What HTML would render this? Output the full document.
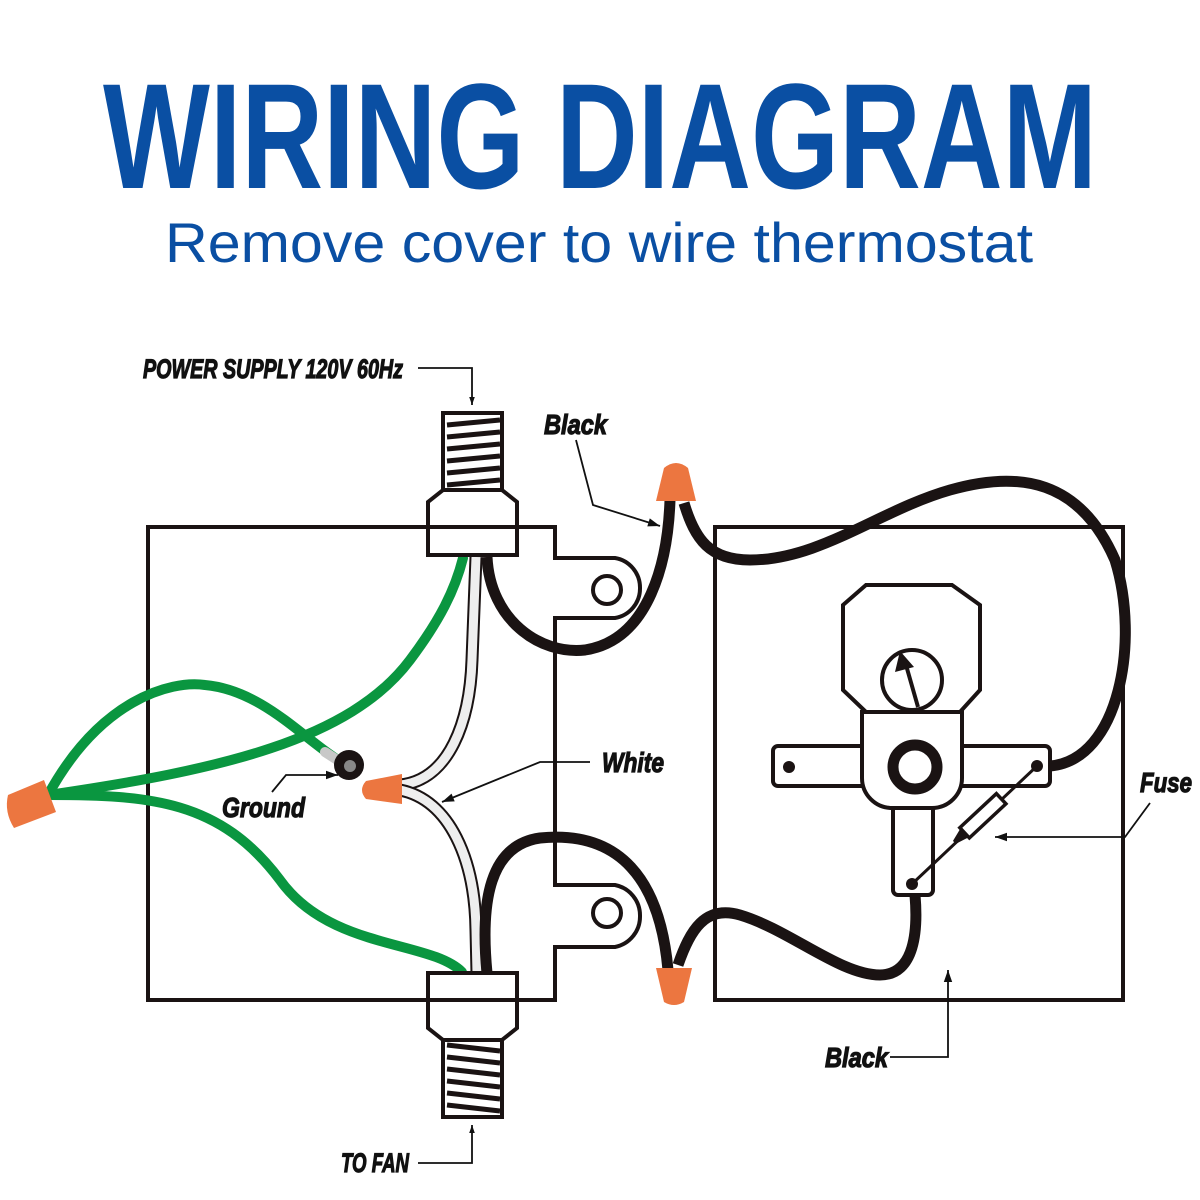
<!DOCTYPE html>
<html><head><meta charset="utf-8"><style>
html,body{margin:0;padding:0;background:#fff;}
svg{display:block;}
.lbl{font-family:"Liberation Sans",sans-serif;font-weight:bold;font-style:italic;fill:#111;stroke:#111;stroke-width:1.2;}
</style></head><body>
<svg width="1200" height="1200" viewBox="0 0 1200 1200" xmlns="http://www.w3.org/2000/svg">
<defs>
<marker id="ar" viewBox="0 0 10 10" refX="10" refY="5" markerWidth="8" markerHeight="8" orient="auto" markerUnits="userSpaceOnUse"><path d="M0,1.5 L10,5 L0,8.5 z" fill="#111"/></marker>
<marker id="ar2" viewBox="0 0 10 10" refX="10" refY="5" markerWidth="22" markerHeight="12" orient="auto" markerUnits="userSpaceOnUse"><path d="M0,1.5 L10,5 L0,8.5 z" fill="#111"/></marker>
</defs>
<text x="103" y="188" font-family="Liberation Sans, sans-serif" font-weight="bold" font-size="150" fill="#0a4fa3" textLength="994" lengthAdjust="spacingAndGlyphs">WIRING DIAGRAM</text>
<text x="165" y="262" font-family="Liberation Sans, sans-serif" font-size="56" fill="#0a4fa3" textLength="868" lengthAdjust="spacingAndGlyphs">Remove cover to wire thermostat</text>

<g fill="none" stroke="#1a1313" stroke-width="4">
<path d="M148,527 H555 V558 H615 A30,30 0 0 1 640,588 A30,30 0 0 1 615,618 H555 V885 H615 A31,31 0 0 1 640,916 A31,31 0 0 1 615,947 H555 V1000 H148 Z"/>
<circle cx="607" cy="590" r="14"/>
<circle cx="607" cy="913" r="14"/>
<rect x="715" y="527" width="408" height="473"/>
</g>

<g fill="none" stroke="#0a9640" stroke-width="10" stroke-linecap="round">
<path d="M48,795 C100,700 170,680 205,685 C260,690 300,735 335,758"/>
<path d="M48,795 C220,770 350,740 410,660 C440,620 455,590 463,558"/>
<path d="M48,795 C150,795 220,800 280,880 C330,950 430,940 462,972"/>
</g>
<g fill="none" stroke-linecap="butt">
<path d="M400,785 C450,780 470,720 472,660 L476,557" stroke="#1a1313" stroke-width="13"/>
<path d="M400,785 C450,780 470,720 472,660 L476,557" stroke="#eeeeee" stroke-width="9"/>
<path d="M400,790 C450,800 475,860 476,930 L477,973" stroke="#1a1313" stroke-width="13"/>
<path d="M400,790 C450,800 475,860 476,930 L477,973" stroke="#eeeeee" stroke-width="9"/>
</g>
<path d="M325,752 L345,765" stroke="#c8c8c8" stroke-width="10" stroke-linecap="round"/>
<circle cx="349" cy="765" r="15" fill="#1a1313"/>
<circle cx="350" cy="766" r="6" fill="#888"/>

<g fill="none" stroke="#1a1313" stroke-width="11" stroke-linecap="butt">
<path d="M487,557 C490,620 540,655 585,650 C650,640 668,560 670,500 L670,490"/>
<path d="M684,503 C695,540 710,560 750,560 C820,560 880,510 950,490 C1020,470 1080,480 1115,560 C1140,640 1120,760 1050,766"/>
<path d="M487,973 C480,900 490,845 540,838 C620,830 660,880 668,970"/>
<path d="M678,965 C690,930 705,905 740,915 C790,930 840,975 880,975 C915,975 918,930 915,895"/>
</g>

<g fill="#ec7640">
<path d="M656,501 L664,468 Q676,458 688,468 L696,501 Z"/>
<path d="M656,968 L692,968 L684,1002 Q674,1008 664,1002 Z"/>
<path d="M8,795 L44,780 L56,812 L14,828 Q4,812 8,795 Z"/>
<path d="M402,774 L402,804 L366,799 Q358,790 366,781 Z"/>
</g>

<g stroke="#1a1313" stroke-width="4" fill="#fff">
<path d="M443,413 H502 V490 L517,502 V555 H428 V502 L443,490 Z"/>
<line x1="428" y1="527" x2="517" y2="527"/>
<line x1="443" y1="490" x2="502" y2="490"/>
<g stroke-width="5">
<line x1="447" y1="425" x2="500" y2="420"/><line x1="447" y1="437" x2="500" y2="432"/>
<line x1="447" y1="449" x2="500" y2="444"/><line x1="447" y1="461" x2="500" y2="456"/>
<line x1="447" y1="473" x2="500" y2="468"/><line x1="447" y1="485" x2="500" y2="480"/>
</g>
<path d="M428,973 H517 V1028 L502,1040 V1117 H443 V1040 L428,1028 Z"/>
<line x1="428" y1="1000" x2="517" y2="1000"/>
<line x1="443" y1="1040" x2="502" y2="1040"/>
<g stroke-width="5">
<line x1="447" y1="1045" x2="500" y2="1051"/><line x1="447" y1="1057" x2="500" y2="1063"/>
<line x1="447" y1="1069" x2="500" y2="1075"/><line x1="447" y1="1081" x2="500" y2="1087"/>
<line x1="447" y1="1093" x2="500" y2="1099"/><line x1="447" y1="1105" x2="500" y2="1111"/>
</g>
</g>

<g stroke="#1a1313" stroke-width="4" fill="#fff">
<rect x="773" y="746" width="277" height="40" rx="5"/>
<rect x="893" y="795" width="40" height="100" rx="5"/>
<path d="M862,712 H962 V778 A30,30 0 0 1 932,808 H892 A30,30 0 0 1 862,778 Z"/>
<path d="M866,585 H952 L980,605 V690 L960,712 H866 L843,690 V605 Z"/>
<circle cx="912" cy="680" r="30"/>
</g>
<line x1="918" y1="707" x2="906" y2="665" stroke="#1a1313" stroke-width="4"/>
<polygon points="900,651 895,672 914,667" fill="#1a1313"/>
<circle cx="915" cy="767" r="22" fill="none" stroke="#1a1313" stroke-width="11"/>
<circle cx="789" cy="767" r="6" fill="#1a1313"/>
<circle cx="1037" cy="766" r="6" fill="#1a1313"/>
<circle cx="912" cy="884" r="6" fill="#1a1313"/>
<line x1="1037" y1="766" x2="912" y2="884" stroke="#1a1313" stroke-width="3"/>
<g transform="translate(988,811) rotate(-43)">
<rect x="-32" y="-7" width="50" height="14" fill="#fff" stroke="#1a1313" stroke-width="3.5"/>
<path d="M-32,-6 L-46,-2 L-46,2 L-32,6 Z" fill="#1a1313"/>
</g>

<g fill="none" stroke="#111" stroke-width="1.8">
<path d="M418,368 H472 V405" marker-end="url(#ar)"/>
<path d="M576,440 L593,505 L660,526" marker-end="url(#ar2)"/>
<path d="M590,762 H540 L442,802" marker-end="url(#ar2)"/>
<path d="M272,792 L286,775 H338" marker-end="url(#ar2)"/>
<path d="M1150,803 L1125,837 H995" marker-end="url(#ar2)"/>
<path d="M890,1057 H948 V970" marker-end="url(#ar2)"/>
<path d="M418,1163 H472 V1125" marker-end="url(#ar)"/>
</g>
<text class="lbl" x="143" y="378" font-size="27" textLength="260" lengthAdjust="spacingAndGlyphs">POWER SUPPLY 120V 60Hz</text>
<text class="lbl" x="544" y="434" font-size="28" textLength="63" lengthAdjust="spacingAndGlyphs">Black</text>
<text class="lbl" x="602" y="772" font-size="28" textLength="62" lengthAdjust="spacingAndGlyphs">White</text>
<text class="lbl" x="222" y="817" font-size="28" textLength="83" lengthAdjust="spacingAndGlyphs">Ground</text>
<text class="lbl" x="1140" y="792" font-size="28" textLength="52" lengthAdjust="spacingAndGlyphs">Fuse</text>
<text class="lbl" x="825" y="1067" font-size="28" textLength="63" lengthAdjust="spacingAndGlyphs">Black</text>
<text class="lbl" x="341" y="1172" font-size="27" textLength="68" lengthAdjust="spacingAndGlyphs">TO FAN</text>
</svg>
</body></html>
